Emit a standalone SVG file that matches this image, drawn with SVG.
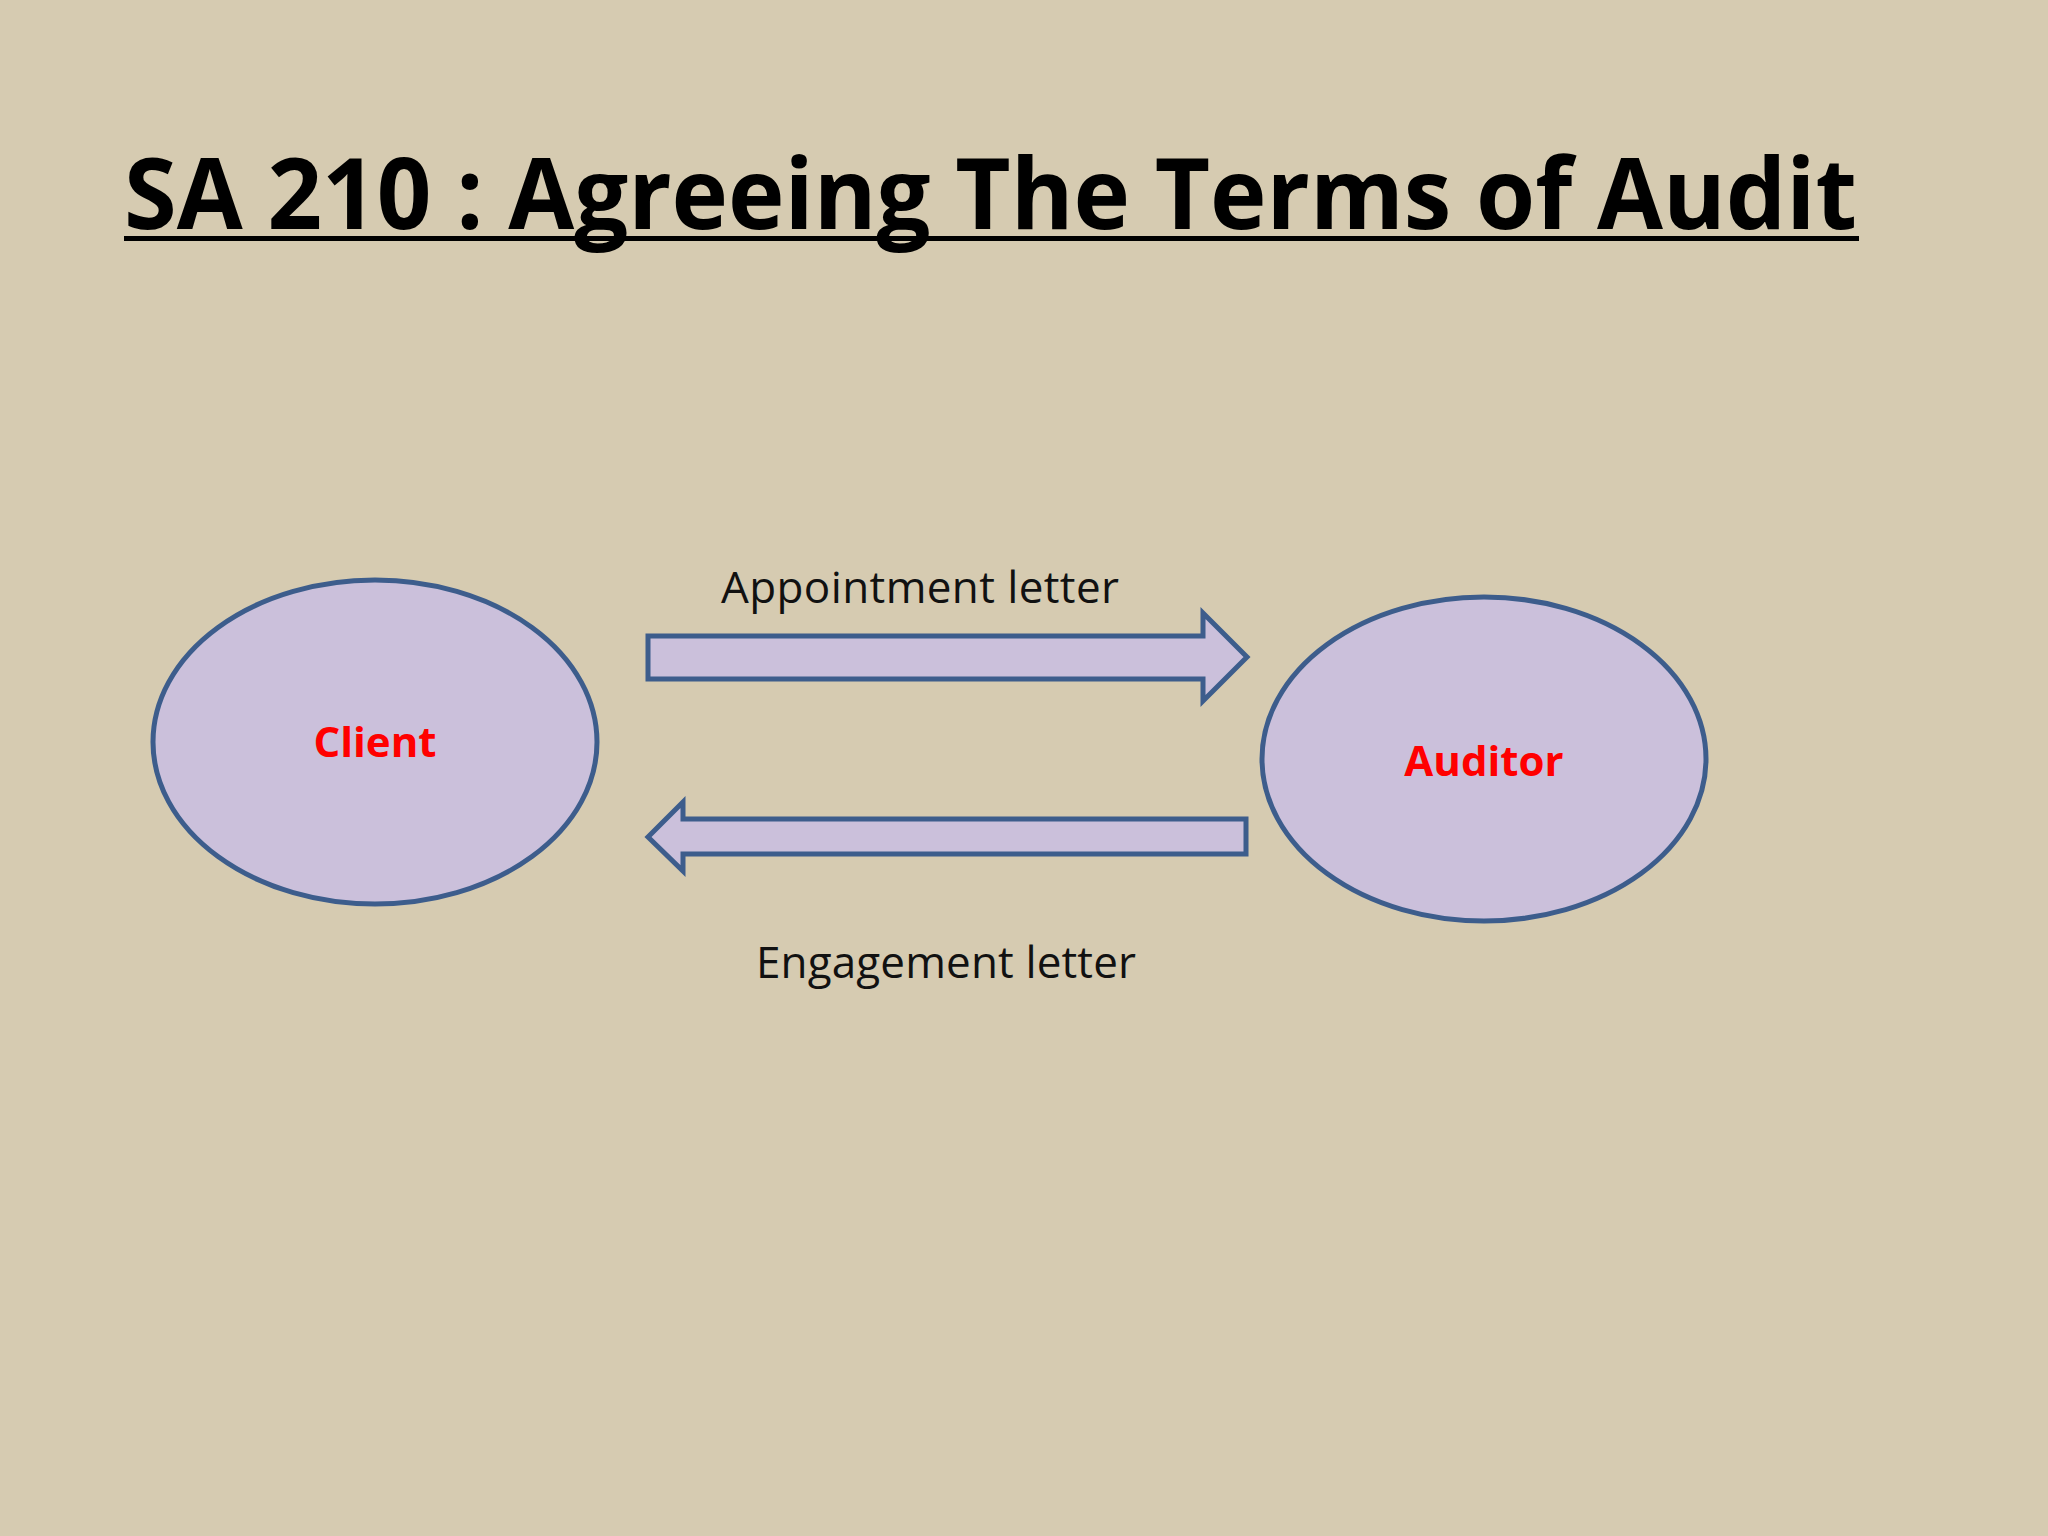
<svg xmlns="http://www.w3.org/2000/svg" width="2048" height="1536" viewBox="0 0 2048 1536">
<style>
.node{fill:#cbc0db;stroke:#3d5d8c;stroke-width:5}
.arrow{fill:#cbc0db;stroke:#3d5d8c;stroke-width:5;stroke-linejoin:miter}
.lbl{font-family:"Open Sans","Liberation Sans",sans-serif;font-weight:bold;fill:#ff0000;font-size:42px;text-anchor:middle}
.edge{font-family:"Open Sans","Liberation Sans",sans-serif;fill:#111;font-size:44px}
</style>
<rect width="2048" height="1536" fill="#d6cbb1"/>
<text x="124" y="229" font-family="'Open Sans','Liberation Sans',sans-serif" font-weight="bold" font-size="98" fill="#000" textLength="1733" lengthAdjust="spacingAndGlyphs">SA 210 : Agreeing The Terms of Audit</text>
<rect x="124" y="236" width="1735" height="5" fill="#000"/>
<g id="client"><ellipse class="node" cx="375" cy="742" rx="222" ry="162"/><text class="lbl" x="375" y="757">Client</text></g>
<g id="auditor"><ellipse class="node" cx="1484" cy="759" rx="222" ry="162"/><text class="lbl" x="1484" y="776">Auditor</text></g>
<g id="connectors">
<path class="arrow" d="M648,636 H1203 V613 L1247,657 L1203,701 V679 H648 Z"/>
<path class="arrow" d="M1246,819 H683 V802 L648,837 L683,871 V854 H1246 Z"/>
<text class="edge" x="721" y="603" textLength="398">Appointment letter</text>
<text class="edge" x="756" y="978" textLength="380">Engagement letter</text>
</g>
</svg>
